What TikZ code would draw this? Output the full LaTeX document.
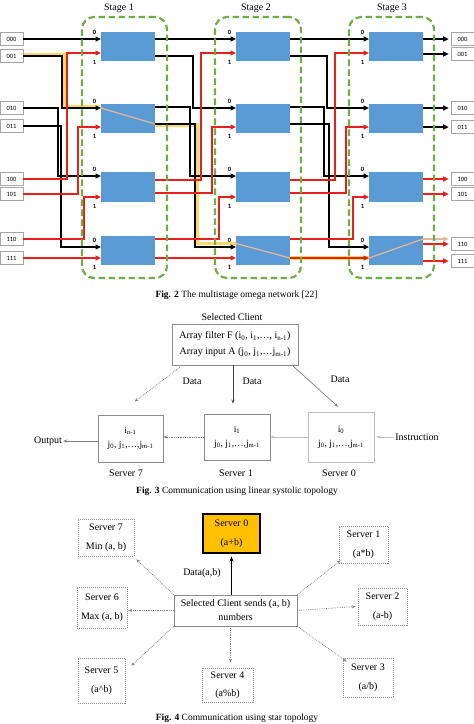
\documentclass[tikz,border=0pt]{standalone}
\usepackage{fontspec}
\setmainfont{Liberation Serif}
\newfontfamily\labfont{Carlito}
\usetikzlibrary{arrows.meta,calc}
\definecolor{swblue}{HTML}{5B9BD5}
\definecolor{stgreen}{HTML}{70AD47}
\definecolor{netred}{HTML}{E8201C}
\definecolor{hlyel}{HTML}{FFD966}
\definecolor{hltan}{HTML}{E2B59A}
\definecolor{srvorange}{HTML}{FFC000}
\definecolor{boxgray}{HTML}{8C8C8C}
\definecolor{lightbox}{HTML}{BDBDBD}
\definecolor{lblgray}{HTML}{A6A6A6}
\definecolor{arrgray}{HTML}{7F7F7F}
\begin{document}
\begin{tikzpicture}[x=1pt,y=-1pt,
  swbox/.style={fill=swblue, draw=none, inner sep=0pt, minimum width=54pt, anchor=north west},
  stagebox/.style={draw=stgreen, line width=2.2pt, dash pattern=on 6.5pt off 3.5pt, rounded corners=12pt, inner sep=0pt},
  iolab/.style={draw=lblgray, line width=0.6pt, fill=white, font=\labfont\fontsize{6.5}{7}\selectfont, minimum width=23pt, minimum height=12.5pt, inner sep=0pt},
  portlab/.style={font=\labfont\bfseries\fontsize{6.5}{7}\selectfont, inner sep=0pt},
  bw/.style={line width=1.6pt, black, -{Triangle[length=5.5pt,width=5pt]}},
  rw/.style={line width=1.6pt, netred, -{Triangle[length=5.5pt,width=5pt]}},
  hl/.style={line width=3.5pt, hlyel},
  tanline/.style={line width=1.3pt, hltan},
  txt/.style={font=\fontsize{10}{12}\selectfont, inner sep=1pt},
  capt/.style={font=\fontsize{9.5}{11}\selectfont, inner sep=0pt},
  tbox/.style={draw=boxgray, line width=0.6pt, inner sep=0pt, align=center, font=\fontsize{10}{16}\selectfont},
  sbox/.style={draw=boxgray, line width=0.6pt, inner sep=0pt, align=center, font=\fontsize{9.5}{14}\selectfont},
  solarr/.style={draw=arrgray, line width=0.7pt, -{Stealth[length=4pt,width=3pt]}},
  dotarr/.style={draw=arrgray, line width=0.7pt, dash pattern=on 0.8pt off 1pt, -{Stealth[length=4pt,width=3pt]}},
  fdot/.style={draw=boxgray, line width=0.6pt, dash pattern=on 1pt off 1pt, inner sep=0pt, align=center, font=\fontsize{10}{18.5}\selectfont},
  fbox/.style={inner sep=0pt, align=center, font=\fontsize{10}{18.5}\selectfont}
]
\useasboundingbox (0,0) rectangle (474,724);

% ---------------- Fig 2: omega network ----------------
% yellow highlight (under wires)
\draw[hl] (22,54.5) -- (64,54.5) -- (64,106.5) -- (100,106.5);
\draw[hl] (155,125) -- (197,125) -- (197,243.5) -- (236,243.5);
\draw[hl] (290,258) -- (369,258);

% switch boxes and ports
\foreach \st/\L in {1/101,2/236,3/369}{
  \foreach \rr/\t/\h/\ia/\ib/\oa/\ob in {1/32/29/39/53/39/56,2/104/29/108/127/107/124,3/172/30/176/197/180/193,4/236/29/247/258/239/258}{
    \node[swbox, minimum height=\h pt] (s\st r\rr) at (\L,\t) {};
    \coordinate (s\st r\rr i0) at (\L,\ia);
    \coordinate (s\st r\rr i1) at (\L,\ib);
    \coordinate (s\st r\rr o0) at (\L+54,\oa);
    \coordinate (s\st r\rr o1) at (\L+54,\ob);
    \node[portlab] (p\st r\rr a) at (\L-6.5,\ia-7) {0};
    \node[portlab] (p\st r\rr b) at (\L-6.5,\ib+9) {1};
  }
}

% input / output labels
\foreach \n/\y in {000/39,001/56,010/108,011/126,100/179,101/194,110/239,111/258}
  \node[iolab] (in\n) at (11.5,\y) {\n};
\foreach \n/\y in {000/39,001/54,010/108,011/127,100/179,101/194,110/244,111/261}
  \node[iolab] (out\n) at (462.5,\y) {\n};

% input wires
\foreach \src/\dst/\v/\sty in {000/s1r1i0/40/bw,001/s1r2i0/62/bw,010/s1r3i0/58/bw,011/s1r4i0/61/bw,100/s1r1i1/67/rw,101/s1r2i1/78/rw,110/s1r3i1/84/rw,111/s1r4i1/40/rw}{
  \coordinate (v) at (\v,0);
  \draw[\sty] (in\src.east) -- (in\src.east -| v) -- (v |- \dst) -- (\dst);
}

% inter-stage wires
\foreach \a/\b/\off in {1/2/0,2/3/134}{
  \foreach \o/\ii/\v/\sty in {r1o0/r1i0/190/bw,r1o1/r2i0/193/bw,r2o0/r3i0/190/bw,r2o1/r4i0/195/bw,r3o0/r1i1/201/rw,r3o1/r2i1/212/rw,r4o0/r3i1/219/rw,r4o1/r4i1/201/rw}{
    \coordinate (v) at (\v+\off,0);
    \draw[\sty] (s\a\o) -- (s\a\o -| v) -- (v |- s\b\ii) -- (s\b\ii);
  }
}

% output wires
\foreach \n/\r/\sty in {000/1/bw,001/1/bw,010/2/bw,011/2/bw,100/3/rw,101/3/rw,110/4/rw,111/4/rw}
  \draw[\sty, shorten >=2pt] (out\n.west -| s3r\r.east) -- (out\n.west);

% highlighted route through switches
\draw[tanline] (s1r2i0) -- (s1r2o1);
\draw[tanline] (236,243.5) -- (s2r4o1);
\coordinate (t3) at (423,239);
\draw[tanline] (s3r4i1) -- (t3);
\draw[tanline, -{Triangle[length=5pt,width=4.5pt]}, shorten >=2pt] (t3) -- (t3 -| out110.west);

% stages
\node[stagebox, minimum width=85pt, minimum height=261pt] (st1) at (124.5,147.5) {};
\node[stagebox, minimum width=86pt, minimum height=261pt] (st2) at (258,147.5) {};
\node[stagebox, minimum width=85pt, minimum height=261pt] (st3) at (391.5,147.5) {};
\node[txt] (st1l) at (119,8) {Stage 1};
\node[txt] (st2l) at (256,8) {Stage 2};
\node[txt] (st3l) at (392,8) {Stage 3};

\node[capt] (cap2) at (236.5,295) {\textbf{Fig. 2} The multistage omega network [22]};

% ---------------- Fig 3: linear systolic ----------------
\node[txt] (selc) at (232,317) {Selected Client};
\node[tbox, minimum width=126pt, minimum height=41pt] (arrbox) at (235,344.5)
  {Array filter F (i\textsubscript{0}, i\textsubscript{1},…, i\textsubscript{n-1})\\Array input A (j\textsubscript{0}, j\textsubscript{1},…j\textsubscript{m-1})};

\node[sbox, minimum width=65pt, minimum height=47pt] (sv7) at (130.5,438.5)
  {i\textsubscript{n-1}\\j\textsubscript{0}, j\textsubscript{1},…,j\textsubscript{m-1}};
\node[sbox, minimum width=66pt, minimum height=46pt] (sv1) at (237,437)
  {i\textsubscript{1}\\j\textsubscript{0}, j\textsubscript{1},…,j\textsubscript{m-1}};
\node[sbox, draw=lightbox, minimum width=66pt, minimum height=50pt] (sv0) at (341,437)
  {i\textsubscript{0}\\j\textsubscript{0}, j\textsubscript{1},…,j\textsubscript{m-1}};

\node[txt] (sv7n) at (126,473) {Server 7};
\node[txt] (sv1n) at (236,473) {Server 1};
\node[txt] (sv0n) at (339,473) {Server 0};

\draw[dotarr] ($(arrbox.south west)+(8,2)$) -- ($(sv7.north)+(4,-13)$);
\draw[solarr, draw=black!75] ($(arrbox.south)+(-2,0)$) -- ($(sv1.north)+(-4,-10)$);
\draw[solarr] ($(arrbox.south east)+(-5,1)$) -- ($(sv0.north)+(-3,-5)$);
\node[txt] (d1) at (192,381) {Data};
\node[txt] (d2) at (252,381) {Data};
\node[txt] (d3) at (340,379) {Data};

\draw[solarr, draw=lightbox] (sv0.west) -- (sv1.east);
\draw[dotarr] (sv1.west) -- (sv1.west -| sv7.east);
\node[txt] (outp) at (48,441) {Output};
\draw[solarr] (outp.east -| sv7.west) -- (outp.east);
\node[txt] (instr) at (417,437) {Instruction};
\draw[solarr, draw=lightbox, shorten >=2pt] (instr.west) -- (instr.west -| sv0.east);

\node[capt] (cap3) at (237,491) {\textbf{Fig. 3} Communication using linear systolic topology};

% ---------------- Fig 4: star ----------------
\node[fbox, fill=srvorange, draw=black, line width=1.2pt, minimum width=57pt, minimum height=39pt] (f0) at (231.5,533.5) {Server 0\\(a+b)};
\node[fdot, minimum width=56pt, minimum height=37pt] (f7) at (106,537.5) {Server 7\\Min (a, b)};
\node[fdot, minimum width=49pt, minimum height=37pt] (f1) at (363.5,544.5) {Server 1\\(a*b)};
\node[fdot, minimum width=50pt, minimum height=41pt] (f6) at (102,607.5) {Server 6\\Max (a, b)};
\node[fbox, draw=boxgray, line width=0.7pt, minimum width=123pt, minimum height=31pt, font=\fontsize{10}{14}\selectfont] (cc) at (235.5,610.5) {Selected Client sends (a, b)\\numbers};
\node[fdot, minimum width=49pt, minimum height=37pt] (f2) at (382.5,606.5) {Server 2\\(a-b)};
\node[fdot, minimum width=47pt, minimum height=45pt] (f5) at (101.5,680.5) {Server 5\\(a\textasciicircum b)};
\node[fdot, minimum width=51pt, minimum height=34pt] (f4) at (227.5,685) {Server 4\\(a\%b)};
\node[fdot, minimum width=50pt, minimum height=39pt] (f3) at (368,677.5) {Server 3\\(a/b)};

\draw[line width=1.2pt, -{Stealth[length=5pt,width=4pt]}, shorten >=3pt] (cc.north -| f0.south) -- (f0.south);
\node[txt] (dab) at (202,573) {Data(a,b)};
\draw[dotarr] (cc.north west) -- ($(f7.south east)+(2,3)$);
\draw[dotarr, shorten >=1pt] (cc.west) -- (cc.west -| f6.east);
\draw[dotarr] (cc.south west) -- ($(f5.north east)+(6,8)$);
\draw[dotarr] ($(cc.south)+(-5,0)$) -- ($(f4.north)+(3,-5)$);
\draw[dotarr] (cc.south east) -- ($(f3.north west)+(4,4)$);
\draw[dotarr] (cc.east) -- ($(f2.west)+(-2,0)$);
\draw[dotarr] (cc.north east) -- ($(f1.south west)+(2,-3)$);

\node[capt] (cap4) at (237,718) {\textbf{Fig. 4} Communication using star topology};
\end{tikzpicture}
\end{document}
